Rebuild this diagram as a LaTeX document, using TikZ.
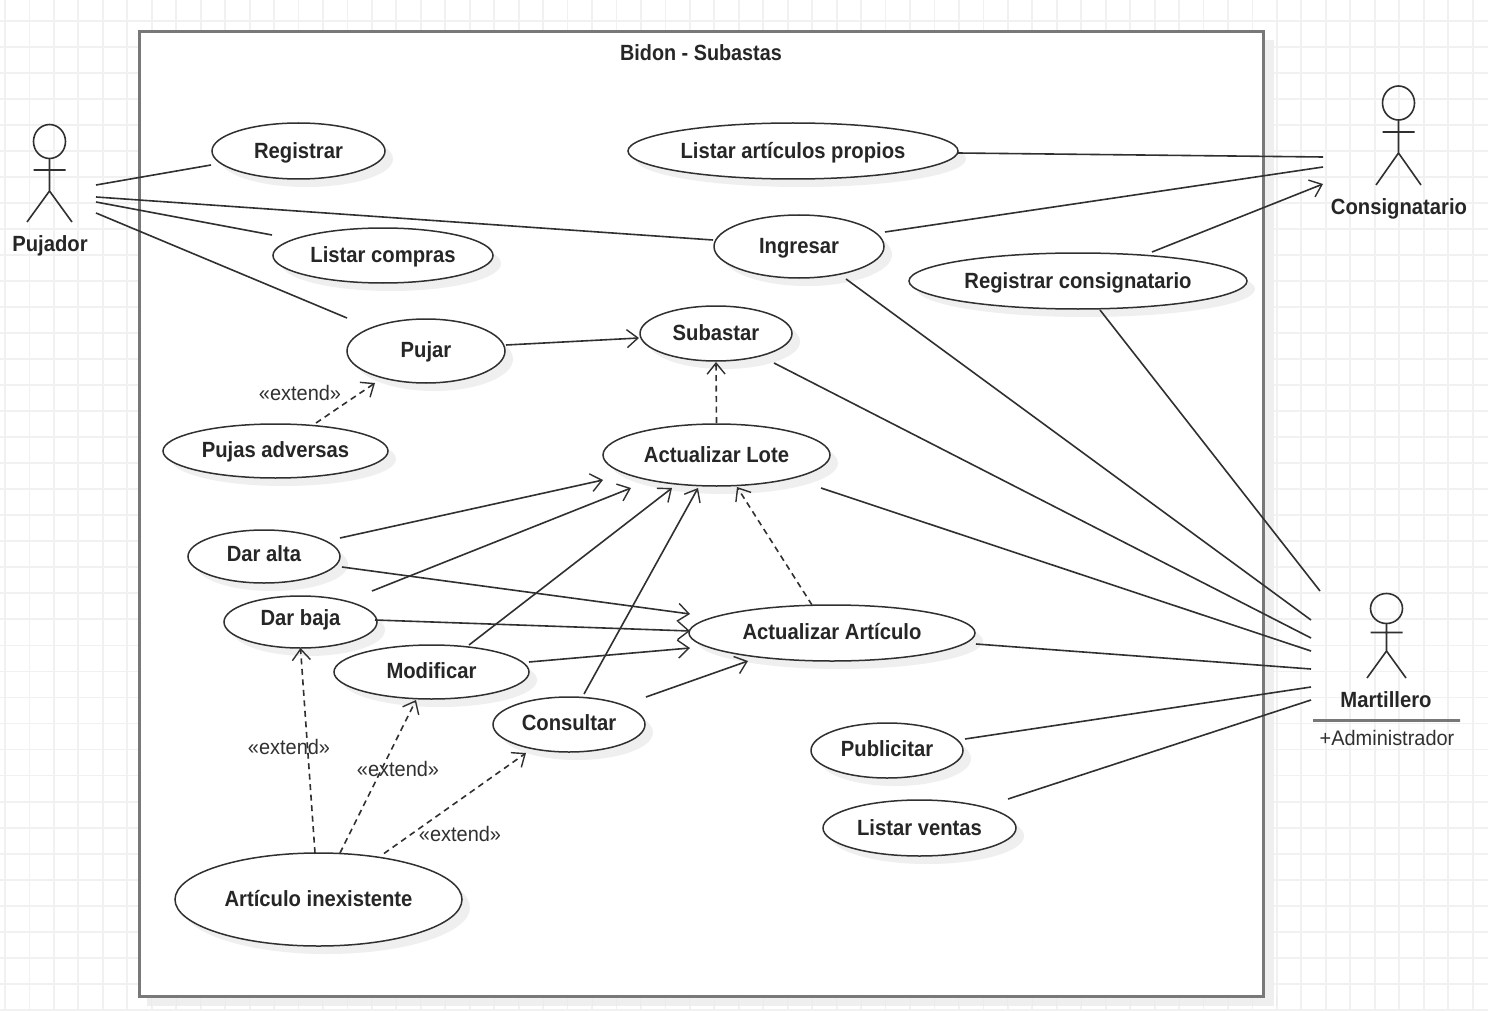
\documentclass[tikz,border=0pt]{standalone}
\usepackage{fontspec}
\setmainfont{Liberation Sans}
\newfontfamily\ucbold[FakeStretch=0.92]{Liberation Sans Bold}
\newfontfamily\uctitle[FakeStretch=0.9]{Liberation Sans Bold}
\newfontfamily\ucreg[FakeStretch=0.95]{Liberation Sans}
\usetikzlibrary{shapes.geometric,arrows.meta,shadows}
\definecolor{gridc}{HTML}{F1F1F1}
\definecolor{shadowc}{HTML}{EFEFEF}
\definecolor{inkc}{HTML}{303030}
\definecolor{framec}{HTML}{787878}
\newcommand{\up}[2]{\raisebox{#1pt}[\height][\depth]{#2}}
\tikzset{
  usecase/.style={ellipse,draw=inkc,line width=1.5pt,fill=white,inner sep=0pt,outer sep=0pt,
    font=\ucbold\fontsize{22}{26}\selectfont,text=black!85,
    drop shadow={shadow xshift=8pt,shadow yshift=-8pt,fill=shadowc,opacity=1}},
  assoc/.style={draw=inkc,line width=1.6pt},
  dep/.style={assoc,-{Straight Barb[length=11pt,width=18pt,line width=1.4pt]}},
  ext/.style={dep,dash pattern=on 6pt off 4.5pt},
  lbl/.style={font=\ucbold\fontsize{22}{26}\selectfont,text=black!85,inner sep=0pt},
  titlelbl/.style={font=\uctitle\fontsize{22}{26}\selectfont,text=black!85,inner sep=0pt},
  plaintxt/.style={font=\ucreg\fontsize{21}{25}\selectfont,text=inkc,inner sep=0pt},
  anchorpt/.style={inner sep=0pt,minimum size=0pt},
  stick/.style={draw=inkc,line width=1.6pt}
}
\newcommand{\stickman}[7]{% cx headY headRy armY hipY footY halfFoot
  \draw[stick] (#1,#2) ellipse [x radius=16,y radius=#3];
  \draw[stick] (#1,#2+#3) -- (#1,#5) (#1-16,#4) -- (#1+16,#4)
     (#1-#7,#6) -- (#1,#5) -- (#1+#7,#6);
}
\begin{document}
\begin{tikzpicture}[x=1pt,y=-1pt]
\useasboundingbox (0,0) rectangle (1488,1011);
\fill[white] (0,0) rectangle (1488,1011);
\foreach \k in {0,...,60} \draw[gridc,line width=1.8pt] ({5+24.46*\k},0) -- ({5+24.46*\k},1011);
\foreach \k in {0,...,38} \draw[gridc,line width=1.8pt] (0,{20.7+26.03*\k}) -- (1488,{20.7+26.03*\k});
% system boundary
\fill[shadowc] (147,40) rectangle (1274,1006);
\foreach \k in {6,...,52} \draw[white!92!black,line width=1pt] ({5+24.46*\k},996) -- ({5+24.46*\k},1006);
\node[draw=framec,line width=3pt,fill=white,minimum width=1124pt,minimum height=964pt,inner sep=0pt,outer sep=0pt] (frame) at (701,514) {};
\node[titlelbl] (title) at (701,52.5) {Bidon - Subastas};
% use cases
\node[usecase,minimum width=173pt,minimum height=56pt] (reg) at (298.5,151) {\up{-1.5}{Registrar}};
\node[usecase,minimum width=330pt,minimum height=56pt] (lap) at (793,151) {\up{-1.5}{Listar artículos propios}};
\node[usecase,minimum width=170pt,minimum height=63pt] (ing) at (799,246.5) {\up{-1.5}{Ingresar}};
\node[usecase,minimum width=220pt,minimum height=55pt] (lc) at (383,255.5) {\up{-1}{Listar compras}};
\node[usecase,minimum width=338pt,minimum height=56pt] (rc) at (1078,281) {\up{-1.5}{Registrar consignatario}};
\node[usecase,minimum width=158pt,minimum height=64pt] (puj) at (426,351) {\up{-0.5}{Pujar}};
\node[usecase,minimum width=152pt,minimum height=55pt] (sub) at (716,333.5) {\up{1}{Subastar}};
\node[usecase,minimum width=225pt,minimum height=54pt] (pa) at (275.5,451) {\up{-1}{Pujas adversas}};
\node[usecase,minimum width=227pt,minimum height=62pt] (al) at (716.5,455) {Actualizar Lote};
\node[usecase,minimum width=152pt,minimum height=53pt] (da) at (264,556.5) {\up{3}{Dar alta}};
\node[usecase,minimum width=153pt,minimum height=52pt] (db) at (300.5,622) {\up{2.5}{Dar baja}};
\node[usecase,minimum width=195pt,minimum height=54pt] (mod) at (431.5,672) {\up{1.5}{Modificar}};
\node[usecase,minimum width=152pt,minimum height=55pt] (con) at (569,724.5) {\up{2}{Consultar}};
\node[usecase,minimum width=286pt,minimum height=56pt] (aa) at (832,633) {\up{1.5}{Actualizar Artículo}};
\node[usecase,minimum width=152pt,minimum height=55pt] (pub) at (887,750.5) {\up{2}{Publicitar}};
\node[usecase,minimum width=193pt,minimum height=56pt] (lv) at (919.5,828) {\up{0.5}{Listar ventas}};
\node[usecase,minimum width=287pt,minimum height=93pt] (ai) at (318.5,899.5) {\up{0.5}{Artículo inexistente}};
% actors
\stickman{49.5}{141.5}{17}{170}{191}{222}{22.5}
\node[anchorpt] (pujador) at (50,170) {};
\node[lbl] (pujadorl) at (50,246) {Pujador};
\stickman{1398.5}{103}{17}{132}{153}{185}{22.5}
\node[anchorpt] (consig) at (1399,157) {};
\node[lbl] (consigl) at (1399,209) {Consignatario};
\stickman{1386.5}{608.5}{15}{632.5}{651}{678}{19.5}
\node[anchorpt] (mart) at (1386,651) {};
\node[lbl] (martl) at (1386,700) {Martillero};
\node[anchorpt,draw=framec,line width=2.5pt,minimum width=147pt] (martsep) at (1386.5,720.5) {};
\node[plaintxt] (martr) at (1387,738) {+Administrador};
% associations
\draw[assoc] ([shift={(46,15)}]pujador.center) -- ([shift={(-87.5,14)}]reg.center);
\draw[assoc] ([shift={(46,27)}]pujador.center) -- ([shift={(-86,-6.5)}]ing.center);
\draw[assoc] ([shift={(46,32)}]pujador.center) -- ([shift={(-111,-20.5)}]lc.center);
\draw[assoc] ([shift={(46,43)}]pujador.center) -- ([shift={(-79,-33)}]puj.center);
\draw[assoc] ([shift={(165,2)}]lap.center) -- ([shift={(-76,0)}]consig.center);
\draw[assoc] ([shift={(86,-14.5)}]ing.center) -- ([shift={(-76,10)}]consig.center);
\draw[dep] ([shift={(74,-29)}]rc.center) -- ([shift={(-76,27)}]consig.center);
\draw[assoc] ([shift={(47,32.5)}]ing.center) -- ([shift={(-75,-31)}]mart.center);
\draw[assoc] ([shift={(58,29.5)}]sub.center) -- ([shift={(-75,-13)}]mart.center);
\draw[assoc] ([shift={(104.5,33)}]al.center) -- ([shift={(-75,0)}]mart.center);
\draw[assoc] ([shift={(144,11)}]aa.center) -- ([shift={(-75,18)}]mart.center);
\draw[assoc] ([shift={(78,-11.5)}]pub.center) -- ([shift={(-75,36)}]mart.center);
\draw[assoc] ([shift={(88.5,-29)}]lv.center) -- ([shift={(-75,49)}]mart.center);
\draw[assoc] ([shift={(22,29)}]rc.center) -- ([shift={(-66,-60)}]mart.center);
% directed
\draw[dep] ([shift={(80,-6)}]puj.center) -- ([shift={(-77,4.5)}]sub.center);
\draw[dep] ([shift={(76,-18.5)}]da.center) -- ([shift={(-113.5,25)}]al.center);
\draw[dep] ([shift={(71.5,-31)}]db.center) -- ([shift={(-85.5,33)}]al.center);
\draw[dep] ([shift={(37.5,-27)}]mod.center) -- ([shift={(-44.5,33)}]al.center);
\draw[dep] ([shift={(15,-30.5)}]con.center) -- ([shift={(-18.5,33)}]al.center);
\draw[dep] ([shift={(78,10.5)}]da.center) -- ([shift={(-142,-19)}]aa.center);
\draw[dep] ([shift={(74.5,-2)}]db.center) -- ([shift={(-142,-2)}]aa.center);
\draw[dep] ([shift={(97.5,-10)}]mod.center) -- ([shift={(-142,15)}]aa.center);
\draw[dep] ([shift={(77,-27.5)}]con.center) -- ([shift={(-84,28)}]aa.center);
% extends
\draw[ext] ([shift={(40.5,-28)}]pa.center) -- ([shift={(-51,32)}]puj.center);
\draw[ext] ([shift={(0,-32)}]al.center) -- ([shift={(0,28.5)}]sub.center);
\draw[ext] ([shift={(-20,-28)}]aa.center) -- ([shift={(20.5,32)}]al.center);
\draw[ext] ([shift={(-3.5,-46.5)}]ai.center) -- ([shift={(0,26)}]db.center);
\draw[ext] ([shift={(21.5,-46.5)}]ai.center) -- ([shift={(-15.5,28)}]mod.center);
\draw[ext] ([shift={(65.5,-46)}]ai.center) -- ([shift={(-43,28.5)}]con.center);
% labels
\node[plaintxt] (e1) at (300,393) {«extend»};
\node[plaintxt] (e2) at (289,747) {«extend»};
\node[plaintxt] (e3) at (398,769) {«extend»};
\node[plaintxt] (e4) at (460,834) {«extend»};
\end{tikzpicture}
\end{document}
